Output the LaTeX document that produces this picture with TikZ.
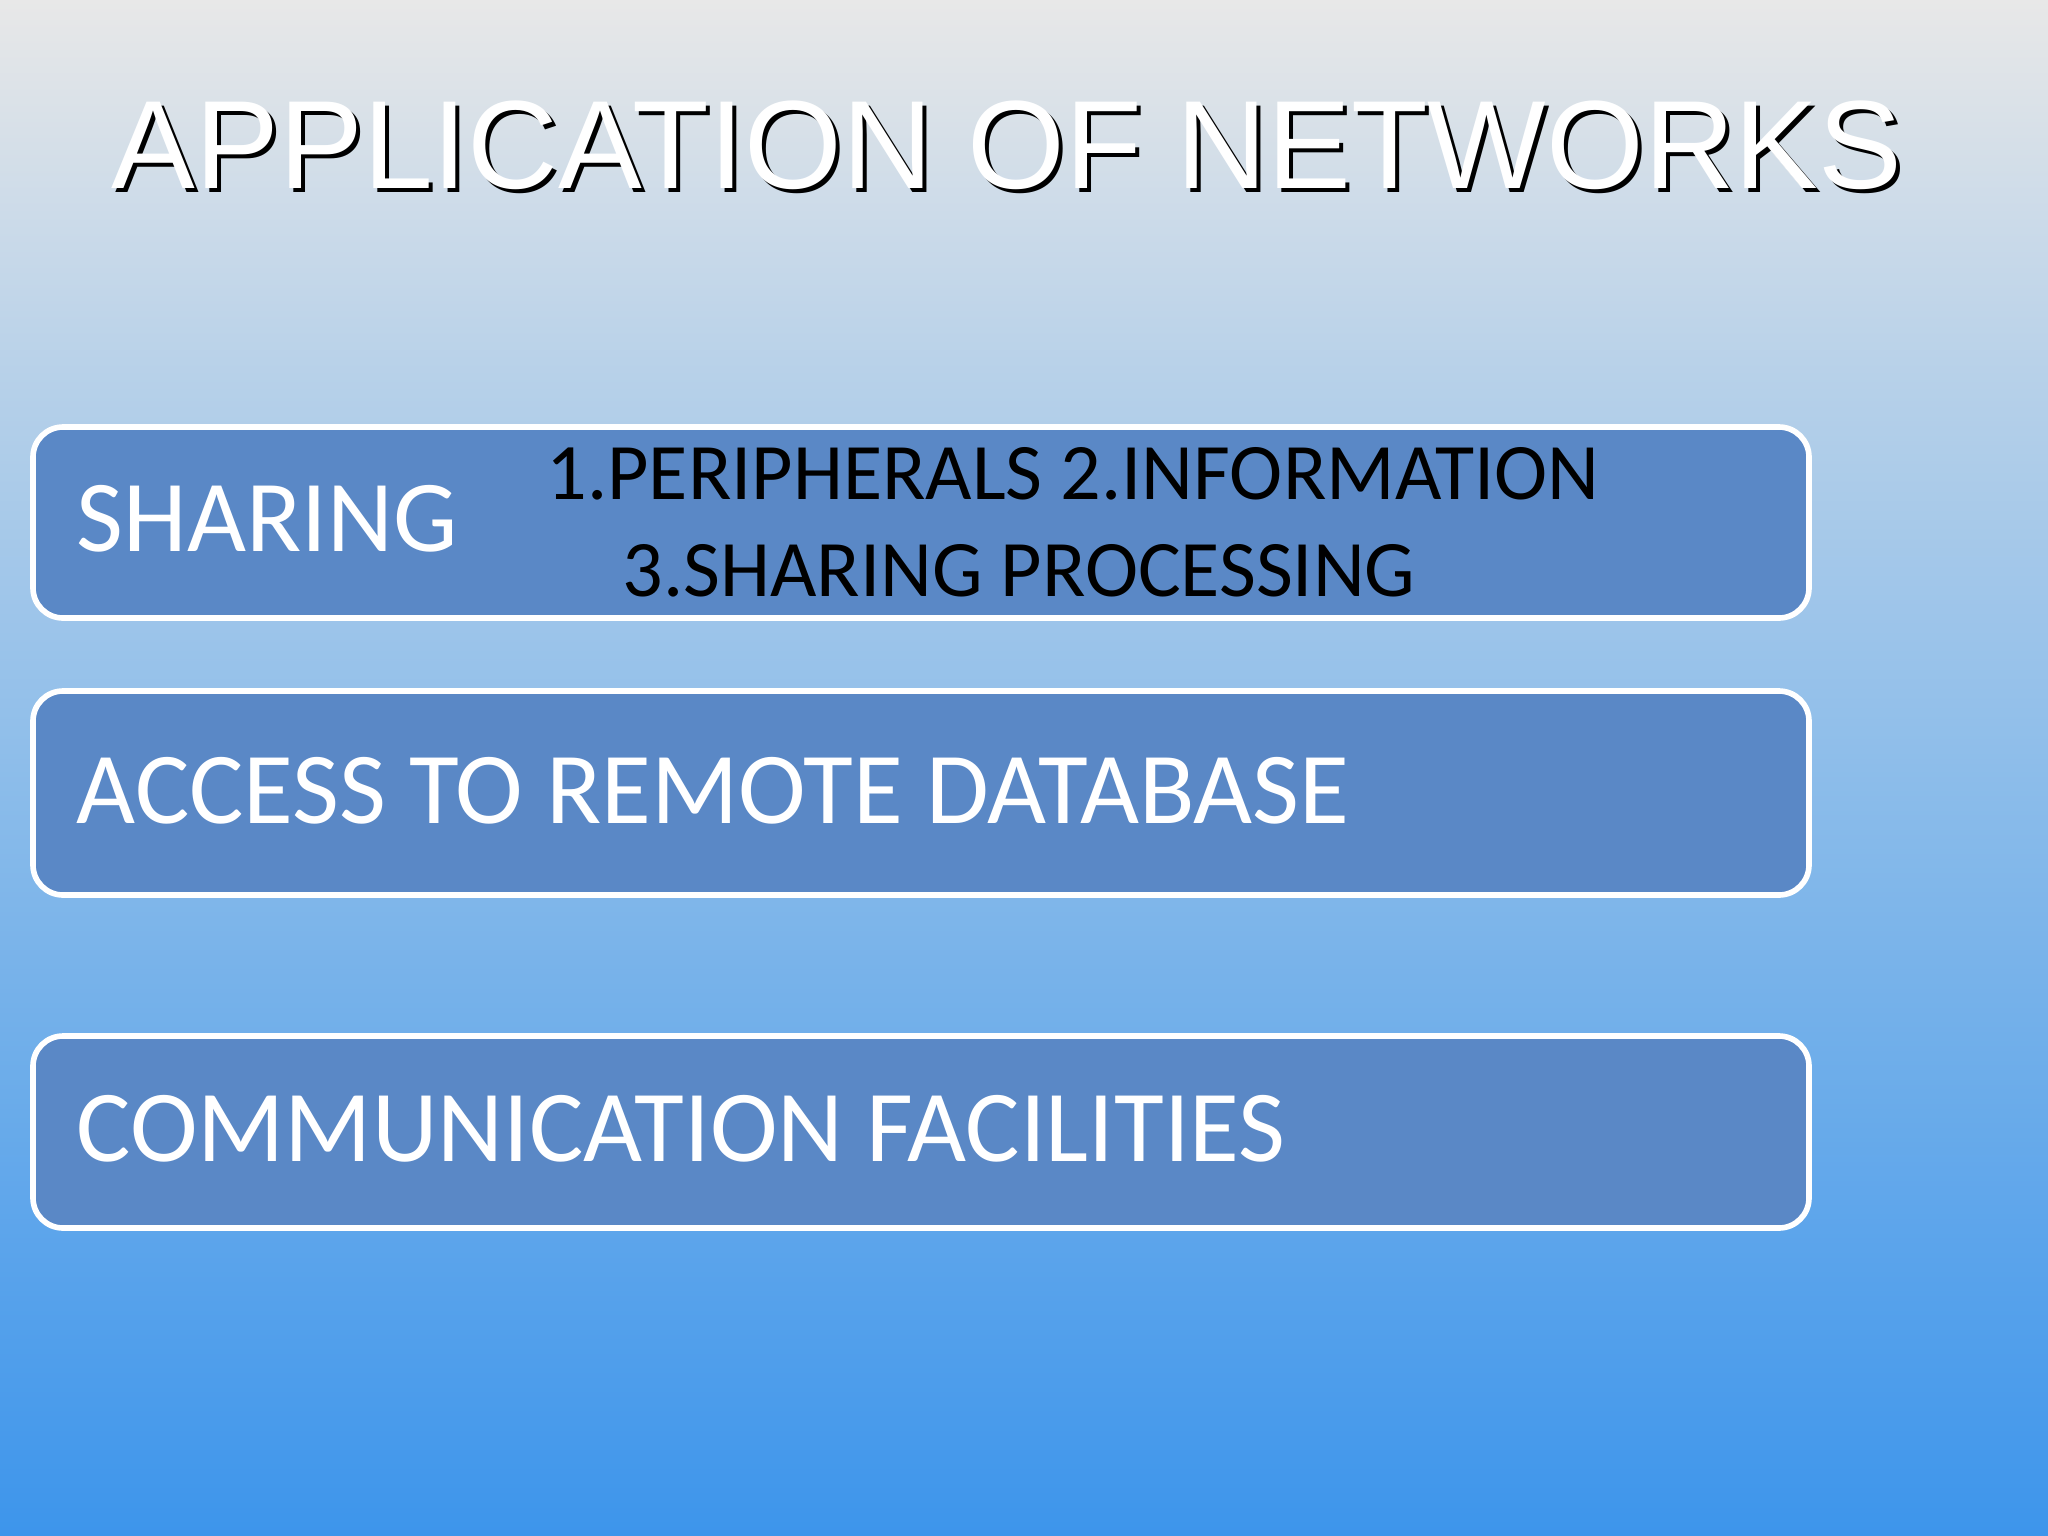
\documentclass[tikz,border=0pt]{standalone}
\usepackage{fontspec}
\setmainfont{Carlito}
\newfontfamily\titlefont{Liberation Sans}
\definecolor{bgtop}{HTML}{E8E8E8}
\definecolor{bgmid}{HTML}{8DBDEA}
\definecolor{bgbot}{HTML}{3D95EB}
\definecolor{boxfill}{HTML}{5A88C6}
\begin{document}
\begin{tikzpicture}[x=0.01cm,y=-0.01cm,
  panel/.style={draw=white,line width=1.6pt,fill=boxfill,rounded corners=0.3cm},
  wtext/.style={text=white,font=\fontsize{29}{33}\selectfont,anchor=west,inner sep=0},
  btext/.style={text=black,font=\fontsize{22.8}{27}\selectfont,inner sep=0}]
\useasboundingbox (0,0) rectangle (2048,1536);
\shade[top color=bgtop,bottom color=bgmid,middle color=bgtop!45!bgmid] (0,0) rectangle (2048,768);
\shade[top color=bgmid,bottom color=bgbot] (0,767) rectangle (2048,1536);
% title with shadow
\node[font=\titlefont\fontsize{35.7}{40}\selectfont,text=black,inner sep=0] (titleshadow) at (1011,149) {APPLICATION OF NETWORKS};
\node[font=\titlefont\fontsize{35.7}{40}\selectfont,text=white,inner sep=0] (title) at (1007,145) {APPLICATION OF NETWORKS};
% panels
\draw[panel] (33,427) rectangle (1809,618);
\draw[panel] (33,691) rectangle (1809,895);
\draw[panel] (33,1036) rectangle (1809,1228);
\node[wtext] (sharing) at (76,519) {SHARING};
\node[btext] (l1) at (1073,474) {1.PERIPHERALS 2.INFORMATION};
\node[btext] (l2) at (1019,571) {3.SHARING PROCESSING};
\node[wtext] (access) at (76,791) {ACCESS TO REMOTE DATABASE};
\node[wtext] (comm) at (76,1129) {COMMUNICATION FACILITIES};
\end{tikzpicture}
\end{document}
